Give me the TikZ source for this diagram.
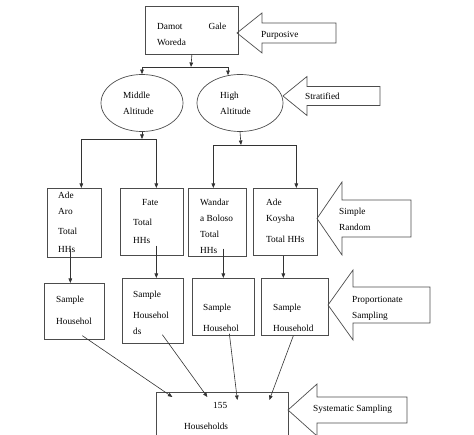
\documentclass[tikz,border=0pt]{standalone}
\usepackage{fontspec}
\setmainfont{Liberation Serif}
\usetikzlibrary{arrows.meta,shapes.geometric}

\newcommand{\bigarrow}[6]{%
  \draw[shape line] (#1,#2) -- (#3,#2-#5) -- (#3,#2-#6) -- (#4,#2-#6) -- (#4,#2+#6) -- (#3,#2+#6) -- (#3,#2+#5) -- cycle;}

\tikzset{
  shape line/.style={draw=black!70, line width=0.7pt},
  box/.style={shape line, rectangle, anchor=north west, inner sep=0pt},
  oval/.style={shape line, ellipse, inner sep=0pt},
  txt/.style={anchor=base west, align=left, inner sep=0pt, font=\fontsize{9.3}{16}\selectfont},
  link/.style={draw=black!80, line width=0.6pt},
  arr/.style={link, -{Triangle[length=4.5pt,width=3.6pt]}},
}

\begin{document}
\begin{tikzpicture}[x=1pt,y=-1pt]
    \useasboundingbox (0,0) rectangle (474,435);
    \clip (0,0) rectangle (474,435);

    \node[box, minimum width=93pt, minimum height=48pt] (woreda) at (145,6) {};
    \node[oval, minimum width=82pt, minimum height=57pt] (mid) at (142,103) {};
    \node[oval, minimum width=86pt, minimum height=57pt] (high) at (240,103) {};

    \node[box, minimum width=54pt, minimum height=69pt] (adeAro) at (47,188) {};
    \node[box, minimum width=63pt, minimum height=67pt] (fate) at (120,188) {};
    \node[box, minimum width=58pt, minimum height=68pt] (wandara) at (188,188) {};
    \node[box, minimum width=64pt, minimum height=67pt] (koysha) at (253,188) {};

    \node[box, minimum width=60pt, minimum height=56pt] (sAdeAro) at (44,283) {};
    \node[box, minimum width=61pt, minimum height=65pt] (sFate) at (122,278) {};
    \node[box, minimum width=62pt, minimum height=57pt] (sWandara) at (192,278) {};
    \node[box, minimum width=67pt, minimum height=57pt] (sKoysha) at (261,278) {};

    \node[box, minimum width=132pt, minimum height=55pt] (total) at (156,392) {};

    \node[txt] (woredaT) at (157,46) {\makebox[69pt]{Damot\hfill Gale}\\Woreda};
    \node[txt] (midT) at (123,115) {Middle\\Altitude};
    \node[txt] (highT) at (220,115) {High\\Altitude};
    \node[txt] (adeAroT) at (58,253) {Ade\\Aro\\[4pt]Total\\[2pt]HHs};
    \node[txt] (fateT) at (133,244) {\hspace*{9pt}Fate\\[4pt]Total\\[2pt]HHs};
    \node[txt] (wandaraT) at (200,254) {Wandar\\a Boloso\\Total\\HHs};
    \node[txt] (koyshaT) at (266,243) {Ade\\Koysha\\[5pt]Total HHs};
    \node[txt] (sAdeAroT) at (56,325) {Sample\\[6pt]Househol};
    \node[txt] (sFateT) at (133,335) {Sample\\[5pt]Househol\\ds};
    \node[txt] (sWandaraT) at (203,332) {Sample\\[5pt]Househol};
    \node[txt] (sKoyshaT) at (273,332) {Sample\\[5pt]Household};
    \node[txt] (totalT) at (184,430) {\hspace*{29pt}155\\[5pt]Households};

    \bigarrow{237}{33}{262}{336}{20}{10}
    \bigarrow{283}{96}{307}{380}{19.5}{9.5}
    \bigarrow{317}{218.5}{342}{411}{36.5}{18.5}
    \bigarrow{328}{305}{353}{430}{35}{18}
    \bigarrow{288}{410}{317}{407}{26}{13}

    \node[txt] (purposive) at (261,38) {Purposive};
    \node[txt] (stratified) at (305,100) {Stratified};
    \node[txt] (simple) at (339,231) {Simple\\Random};
    \node[txt] (proportionate) at (352,319) {Proportionate\\Sampling};
    \node[txt] (systematic) at (313,412) {Systematic Sampling};

    \coordinate (j1) at (191,67);
    \coordinate (j2) at (142,139);
    \coordinate (j3) at (241,145);

    \draw[arr] (woreda.south) -- (j1);
    \draw[arr] (j1) -| (mid.north);
    \draw[arr] (j1) -| ([xshift=-12pt,yshift=-1pt]high.north);

    \draw[arr] (mid.south) -- (j2);
    \draw[arr] (j2) -| ([xshift=7pt]adeAro.north);
    \draw[arr] (j2) -| ([xshift=4.5pt]fate.north);
    \draw[arr] (high.south) -- (j3);
    \draw[arr] (j3) -| ([xshift=-4pt]wandara.north);
    \draw[arr] (j3) -| ([xshift=11pt]koysha.north);

    \draw[arr] ([xshift=-4pt,yshift=9pt]adeAro.south) -- ([xshift=-4pt]sAdeAro.north);
    \draw[arr] ([xshift=4.5pt,yshift=10pt]fate.south) -- ([xshift=3.5pt]sFate.north);
    \draw[arr] ([xshift=6pt,yshift=8pt]wandara.south) -- (sWandara.north);
    \draw[arr] ([xshift=-2pt]koysha.south) -- ([xshift=-11.5pt]sKoysha.north);

    \draw[arr] ([xshift=8pt,yshift=4pt]sAdeAro.south) -- ([xshift=-50pt,yshift=-5pt]total.north);
    \draw[arr] ([xshift=9.5pt,yshift=9pt]sFate.south) -- ([xshift=-15pt,yshift=-5pt]total.north);
    \draw[arr] ([xshift=6pt,yshift=2pt]sWandara.south) -- ([xshift=15pt,yshift=-8pt]total.north);
    \draw[arr] ([xshift=-1.5pt]sKoysha.south) -- ([xshift=47pt,yshift=-8pt]total.north);
\end{tikzpicture}
\end{document}
